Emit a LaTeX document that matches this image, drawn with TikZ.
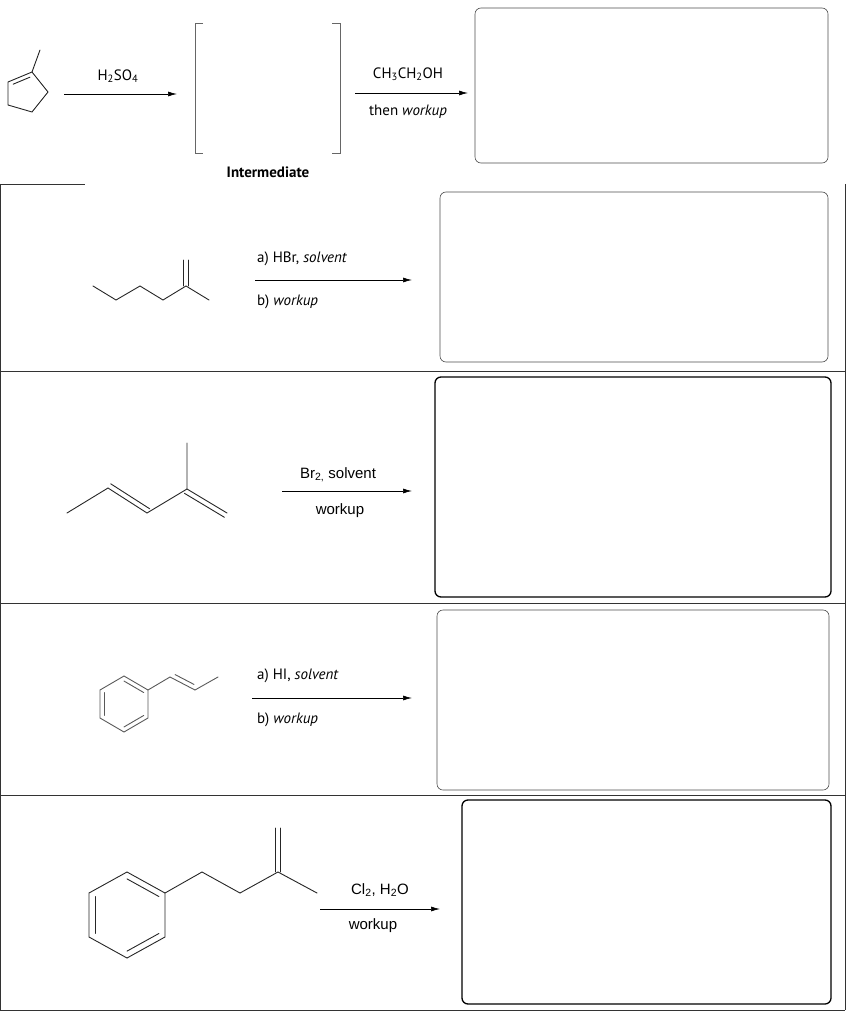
\documentclass[tikz,border=0pt]{standalone}
\usepackage{fontspec}
\setmainfont{Liberation Sans}
\newfontfamily\hum{PT Sans}
\usetikzlibrary{calc,arrows.meta}
\tikzset{
 bond/.style={line width=0.9pt,black!85,line cap=round},
 rxn/.style={line width=0.7pt,-{Latex[length=9pt,width=5pt]}},
 ansbox/.style={draw,rounded corners=6pt,line width=0.6pt,black!70},
 ansboxb/.style={draw,rounded corners=6pt,line width=1.3pt},
 rule/.style={line width=0.8pt,black!80},
 lbl/.style={font=\hum\fontsize{15}{17}\selectfont,inner sep=0pt},
 lba/.style={font=\fontsize{15}{17}\selectfont,inner sep=0pt}
}
\begin{document}
\begin{tikzpicture}[x=1pt,y=-1pt]
\useasboundingbox (0,0) rectangle (858,1024);
% table rules
\draw[rule] (0,184) -- (85,184);
\draw[rule] (0,371) -- (845,371);
\draw[rule] (0,603) -- (845,603);
\draw[rule] (0,795) -- (845,795);
\draw[rule] (0,1010) -- (845,1010);
\draw[rule] (0.5,184) -- (0.5,1010);
\draw[rule] (845,184) -- (845,1010);
% answer boxes
\draw[ansbox] (475,8) rectangle (828,163);
\draw[ansbox] (440,192) rectangle (828,362);
\draw[ansboxb] (435,377) rectangle (831,597);
\draw[ansbox] (437,610) rectangle (829,790);
\draw[ansboxb] (462,800) rectangle (831,1004);
% row 1
\coordinate (a1) at (32,72); \coordinate (am) at (40,50); \coordinate (a2) at (8,82);
\coordinate (a3) at (8,105); \coordinate (a4) at (32,112); \coordinate (a5) at (48,92);
\draw[bond] (a1)--(a2)--(a3)--(a4)--(a5)--cycle;
\draw[bond] (a1)--(am);
\draw[bond] ($(a1)!0.15!(a2)!4pt!90:(a2)$) -- ($(a2)!0.15!(a1)!4pt!-90:(a1)$);
\coordinate (r1s) at (64,94); \coordinate (r1e) at (177,94);
\draw[rxn] (r1s) -- (r1e);
\node[lbl] (h2so4) at (118,76) {H\textsubscript{2}SO\textsubscript{4}};
\draw[line width=0.8pt,black!60] (203,23) -- (195,23) -- (195,153) -- (203,153);
\draw[line width=0.8pt,black!60] (332,23) -- (340,23) -- (340,153) -- (332,153);
\node[lbl,font=\hum\bfseries\fontsize{15}{17}\selectfont] (inter) at (268,172) {Intermediate};
\coordinate (r2s) at (355,93); \coordinate (r2e) at (468,93);
\draw[rxn] (r2s) -- (r2e);
\node[lbl] (etoh) at (408,74) {CH\textsubscript{3}CH\textsubscript{2}OH};
\node[lbl] (then) at (408,112) {then \textit{workup}};
% row 2
\coordinate (b1) at (93,286); \coordinate (b2) at (116,300); \coordinate (b3) at (140,286);
\coordinate (b4) at (163,300); \coordinate (b5) at (186,286); \coordinate (b6) at (209,300);
\coordinate (b7) at (186,260);
\draw[bond] (b1)--(b2)--(b3)--(b4)--(b5)--(b6);
\draw[bond] ($(b5)+(-2.5,0)$) -- ($(b7)+(-2.5,0)$);
\draw[bond] ($(b5)+(2.5,0)$) -- ($(b7)+(2.5,0)$);
\coordinate (r3s) at (255,280); \coordinate (r3e) at (412,280);
\draw[rxn] (r3s) -- (r3e);
\node[lbl,anchor=west] (hbr) at (257,259) {a) HBr, \textit{solvent}};
\node[lbl,anchor=west] (wk2) at (257,302) {b) \textit{workup}};
% row 3
\coordinate (c1) at (67,513); \coordinate (c2) at (108,488); \coordinate (c3) at (147,513);
\coordinate (c4) at (187,489); \coordinate (c5) at (187,443); \coordinate (c6) at (227,513);
\draw[bond] (c1)--(c2)--(c3)--(c4)--(c5);
\draw[bond] (c4)--(c6);
\draw[bond] ($(c2)!5pt!90:(c3)$) -- ($(c3)!5pt!-90:(c2)$);
\draw[bond] ($(c4)!5pt!-90:(c6)$) -- ($(c6)!5pt!90:(c4)$);
\coordinate (r4s) at (282,491); \coordinate (r4e) at (412,491);
\draw[rxn] (r4s) -- (r4e);
\node[lba] (br2) at (338,475) {Br\textsubscript{2,} solvent};
\node[lba] (wk3) at (340,511) {workup};
% row 4
\coordinate (d1) at (124,676); \coordinate (d2) at (148,690); \coordinate (d3) at (148,718);
\coordinate (d4) at (124,732); \coordinate (d5) at (100,718); \coordinate (d6) at (100,690);
\coordinate (dc) at (124,704);
\draw[bond,black!65] (d1)--(d2)--(d3)--(d4)--(d5)--(d6)--cycle;
\draw[bond,black!65] ($(d1)!0.18!(dc)$) -- ($(d2)!0.18!(dc)$);
\draw[bond,black!65] ($(d3)!0.18!(dc)$) -- ($(d4)!0.18!(dc)$);
\draw[bond,black!65] ($(d5)!0.18!(dc)$) -- ($(d6)!0.18!(dc)$);
\coordinate (d7) at (170,677); \coordinate (d8) at (195,690); \coordinate (d9) at (218,677);
\draw[bond,black!65] (d2)--(d7)--(d8)--(d9);
\draw[bond,black!65] ($(d7)!0.12!(d8)!4.5pt!90:(d8)$) -- ($(d8)!0.12!(d7)!4.5pt!-90:(d7)$);
\coordinate (r5s) at (252,698); \coordinate (r5e) at (412,698);
\draw[rxn] (r5s) -- (r5e);
\node[lbl,anchor=west] (hi) at (257,676) {a) HI, \textit{solvent}};
\node[lbl,anchor=west] (wk4) at (257,720) {b) \textit{workup}};
% row 5
\coordinate (e1) at (127,872); \coordinate (e2) at (165,893); \coordinate (e3) at (165,937);
\coordinate (e4) at (127,958); \coordinate (e5) at (89,937); \coordinate (e6) at (89,893);
\coordinate (ec) at (127,915);
\draw[bond] (e1)--(e2)--(e3)--(e4)--(e5)--(e6)--cycle;
\draw[bond] ($(e1)!0.16!(ec)$) -- ($(e2)!0.16!(ec)$);
\draw[bond] ($(e3)!0.16!(ec)$) -- ($(e4)!0.16!(ec)$);
\draw[bond] ($(e5)!0.16!(ec)$) -- ($(e6)!0.16!(ec)$);
\coordinate (e7) at (202,872); \coordinate (e8) at (240,893); \coordinate (e9) at (278,872);
\coordinate (e10) at (278,828); \coordinate (e11) at (317,893);
\draw[bond] (e2)--(e7)--(e8)--(e9)--(e11);
\draw[bond] ($(e9)+(-2.5,0)$) -- ($(e10)+(-2.5,0)$);
\draw[bond] ($(e9)+(2.5,0)$) -- ($(e10)+(2.5,0)$);
\coordinate (r6s) at (320,909); \coordinate (r6e) at (440,909);
\draw[rxn] (r6s) -- (r6e);
\node[lba] (cl2) at (380,890) {Cl\textsubscript{2}, H\textsubscript{2}O};
\node[lba] (wk5) at (373,926) {workup};
\end{tikzpicture}
\end{document}
